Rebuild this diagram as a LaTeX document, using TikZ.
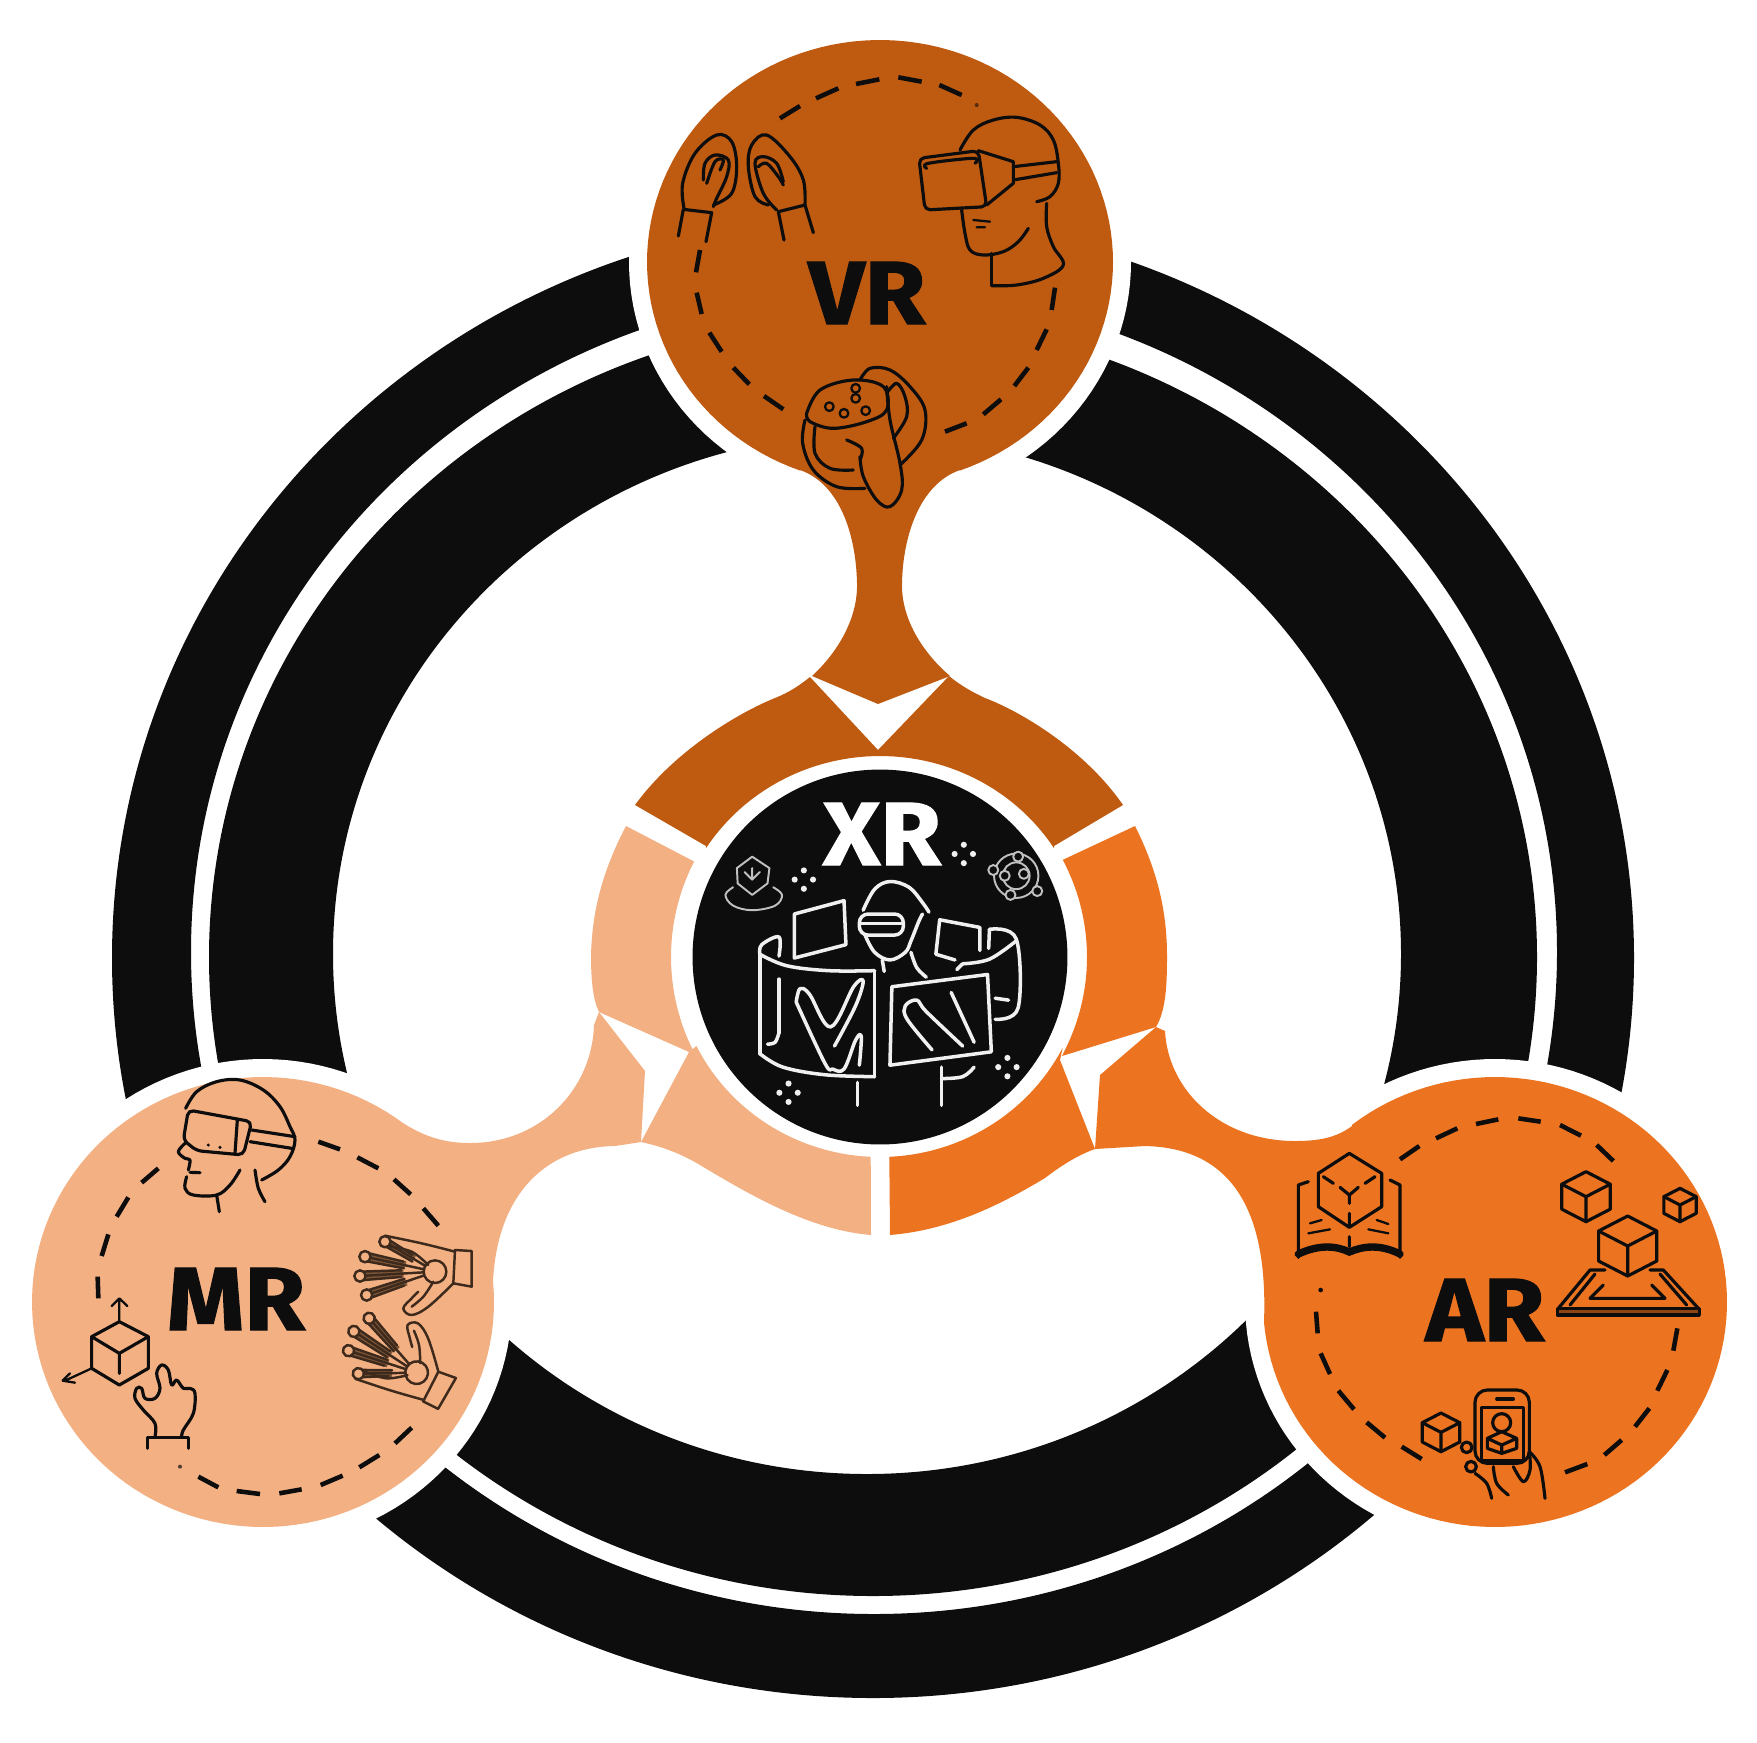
\documentclass[tikz,border=0pt]{standalone}
\usepackage{fontspec}
\setmainfont{Fira Sans}
\newfontfamily\heavyfont[BoldFeatures={FakeBold=1.4,FakeStretch=1.1}]{Fira Sans}
\definecolor{ringblack}{HTML}{0D0D0D}
\definecolor{vrcol}{HTML}{BF5A11}
\definecolor{mrcol}{HTML}{F3B083}
\definecolor{arcol}{HTML}{EC7320}
\definecolor{xrline}{HTML}{F0F0F0}
\definecolor{fingerbr}{HTML}{7F5638}
\definecolor{handdark}{HTML}{3D2A1C}
\tikzset{
  ic/.style={draw=ringblack,line width=1.8pt,line cap=round,line join=round},
  icthin/.style={draw=ringblack,line width=1.3pt,line cap=round,line join=round},
  xl/.style={draw=xrline,line width=2pt,line cap=round,line join=round},
  xg/.style={draw=xrline!80!black,line width=1.1pt,line cap=round,line join=round},
  dashseg/.style={draw=ringblack,line width=2.6pt},
  handln/.style={draw=handdark,line width=1.4pt,line cap=round,line join=round},
  halo/.style={draw=white,line width=20.5pt,line join=round},
  bigtext/.style={font=\heavyfont\fontsize{51}{51}\selectfont\bfseries,text=ringblack,inner sep=0pt},
  za/.style={shift={(620,20)},scale=0.33333},
  zb/.style={shift={(580,650)},scale=0.38265},
  zc/.style={shift={(20,1060)},scale=0.33333},
  zd/.style={shift={(1250,1070)},scale=0.33333}
}
\newcommand{\smline}[2][ic]{\draw[#1] plot[smooth,tension=.6] coordinates {#2};}
\newcommand{\cubeic}[3]{%
  \draw[ic] (#1,#2-#3) -- (#1+.97*#3,#2-.5*#3) -- (#1+.97*#3,#2+.5*#3) -- (#1,#2+#3) -- (#1-.97*#3,#2+.5*#3) -- (#1-.97*#3,#2-.5*#3) -- cycle;
  \draw[ic] (#1-.97*#3,#2-.5*#3) -- (#1,#2) -- (#1+.97*#3,#2-.5*#3) (#1,#2) -- (#1,#2+#3);
}
\newcommand{\sparkle}[2]{%
  \foreach \dx/\dy in {0/-24,24/0,0/24,-24/0}{\fill[xrline] (#1+\dx,#2+\dy) circle[radius=8];}
}
\usetikzlibrary{calc}
\newcommand{\mocap}{%
  \foreach \tx/\ty in {-150/-90,-210/-45,-225/13,-205/70}{
    \draw[line width=4.6pt,fingerbr] (\tx,\ty) -- ($(\tx,\ty)!0.58!(0,0)$);
    \draw[handln] ($(\tx,\ty)+(0,-13)$) -- ($(\tx,\ty)!0.55!(0,0)+(0,-10)$);
    \draw[handln] ($(\tx,\ty)+(0,13)$) -- ($(\tx,\ty)!0.55!(0,0)+(0,10)$);
    \draw[handln] (\tx,\ty) -- (0,0);
    \draw[handln,fill=mrcol] (\tx,\ty) circle[radius=17];
  }
  \draw[handln,fill=mrcol] (0,0) circle[radius=34];
  \smline[handln]{(-150,-108) (-40,-85) (60,-60)}
  \smline[handln]{(-135,-75) (-70,-60) (-20,-20)}
  \draw[handln] (60,-65) -- (110,-62) -- (110,45) -- (55,35) -- cycle;
  \smline[handln]{(55,35) (-20,105) (-70,130) (-95,110) (-70,80) (-50,60)}
  \smline[handln]{(-5,30) (-35,75) (-70,105)}
}
\begin{document}
\begin{tikzpicture}[x=0.02cm,y=-0.02cm]
\path[use as bounding box] (0,0) rectangle (1757,1742);
% rings
\fill[ringblack,even odd rule] (873,958) circle[x radius=761,y radius=740] (874,952) circle[x radius=683,y radius=662];
\fill[ringblack,even odd rule] (873,957) circle[x radius=664,y radius=639] (867,954) circle[x radius=534,y radius=520];
% bodies
\newcommand{\vrbody}{(812,676) .. controls (838,652) and (858,618) .. (857,583) .. controls (856,535) and (840,484) .. (800,470) -- plot[domain=110:430,samples=120,variable=\t] ({880+233*cos(\t)},{262+222*sin(\t)}) -- (960,470) .. controls (920,484) and (903,535) .. (902,583) .. controls (901,618) and (922,652) .. (950,676) -- (878,704) -- cycle}
\newcommand{\mrbody}{(599,1012) -- (594,1025) .. controls (592,1090) and (540,1143) .. (470,1143) .. controls (445,1143) and (425,1137) .. (403,1123) -- plot[domain=-52.7:-365,samples=120,variable=\t] ({263+231*cos(\t)},{1302+225*sin(\t)}) -- (493,1282) .. controls (497,1195) and (545,1147) .. (615,1146) -- (641,1142) -- (645,1071) -- cycle}
\newcommand{\arbody}{(1156,1027) -- (1165,1031) .. controls (1168,1090) and (1220,1141) .. (1295,1141) .. controls (1318,1141) and (1336,1138) .. (1352,1126) -- plot[domain=232:535,samples=120,variable=\t] ({1495+232*cos(\t)},{1302+225*sin(\t)}) -- (1264,1322) .. controls (1268,1215) and (1235,1148) .. (1145,1146) -- (1095,1149) -- (1100,1075) -- cycle}
\path[halo] \vrbody;
\path[halo] \mrbody;
\path[halo] \arbody;
\fill[vrcol] \vrbody;
\fill[mrcol] \mrbody;
\fill[arcol] \arbody;
% VR sector
\fill[vrcol] (635,805) .. controls (675,750) and (740,712) .. (775,698) .. controls (790,692) and (800,685) .. (810,677) -- (878,750) -- (949,676) .. controls (960,685) and (972,692) .. (985,698) .. controls (1022,712) and (1085,750) .. (1123,805) -- (1054,846) -- plot[domain=327.2:212.8,samples=50,variable=\t] ({880+207*cos(\t)},{957+201*sin(\t)}) -- (706,846) -- cycle;
% MR sector
\fill[mrcol] (626,826) .. controls (603,870) and (592,910) .. (591,956) .. controls (591,980) and (593,1000) .. (599,1012) -- (689,1052) -- plot[domain=153.6:207.2,samples=30,variable=\t] ({880+209*cos(\t)},{957+209*sin(\t)}) -- cycle;
\fill[mrcol] (689,1052) -- plot[domain=153.6:92.6,samples=30,variable=\t] ({880+205*cos(\t)},{957+200*sin(\t)}) -- (871,1235) .. controls (810,1230) and (750,1195) .. (700,1165) .. controls (680,1153) and (660,1146) .. (641,1142) -- cycle;
% AR sector
\fill[arcol] (1135,826) .. controls (1157,870) and (1167,910) .. (1167,956) .. controls (1167,985) and (1166,1010) .. (1156,1027) -- (1062,1056) -- plot[domain=26:-28,samples=30,variable=\t] ({880+207*cos(\t)},{957+207*sin(\t)}) -- cycle;
\fill[arcol] (1060,1060) -- plot[domain=27:87.4,samples=30,variable=\t] ({880+205*cos(\t)},{957+200*sin(\t)}) -- (890,1235) .. controls (950,1230) and (1000,1205) .. (1045,1178) .. controls (1062,1165) and (1078,1155) .. (1095,1149) -- cycle;
% XR disc
\node[circle,fill=ringblack,minimum size=7.5cm,inner sep=0pt] (xrdisc) at (880,957) {};
% labels
\node[bigtext] (vrlabel) at (867,293) {VR};
\node[bigtext] (mrlabel) at (236,1299) {MR};
\node[bigtext] (arlabel) at (1485,1310) {AR};
\node[bigtext,text=white] (xrlabel) at (882,834) {XR};
% ---------- VR icons
\begin{scope}[za]
\foreach \a/\b/\c/\d in {480/295/540/258,588/235/655/205,708/192/778/178,835/172/905/185,958/195/1025/225,1305/803/1295/870,1280/928/1250/990,1225/1043/1183/1098,1143/1138/1090/1183,1040/1210/975/1235,240/690/228/757,230/818/245/882,268/938/305/995,340/1043/388/1093,432/1128/490/1168}{\draw[dashseg] (\a,\b) -- (\c,\d);}
\fill[ringblack!60!vrcol] (1070,255) circle[radius=6];
% hands
\draw[ic] (175,648) -- (190,568) -- (275,578) -- (258,665);
\smline{(192,565) (188,490) (225,400) (290,345) (335,365) (350,440) (335,520) (280,555)}
\smline{(250,480) (255,430) (285,405) (325,420) (320,470) (290,535) (280,560)}
\smline{(260,490) (285,425) (310,420) (300,450)}
\draw[ic] (580,638) -- (555,555) -- (475,575) -- (492,660);
\smline{(555,555) (550,480) (510,410) (440,345) (395,375) (385,440) (405,530) (445,555)}
\smline{(490,485) (470,430) (430,410) (405,430) (430,520) (470,570)}
\smline{(415,440) (440,430) (475,470) (490,495)}
% head with headset
\smline{(1020,390) (1060,330) (1120,300) (1190,292) (1260,315) (1300,360) (1315,430) (1315,490) (1290,530) (1250,545)}
\smline{(1280,550) (1280,620) (1300,680) (1330,735) (1270,775) (1190,795) (1115,797)}
\draw[ic] (1115,797) -- (1115,700);
\smline{(1025,570) (1035,640) (1050,690) (1090,705) (1150,695) (1195,665) (1225,625)}
\draw[ic,rounded corners=3pt] (897,415) -- (1075,392) -- (1100,560) -- (915,570) -- cycle;
\draw[ic] (1075,392) -- (1180,425) -- (1180,490) -- (1100,555);
\draw[ic] (1180,440) -- (1310,425) (1180,480) -- (1310,458);
\smline{(920,445) (925,430) (1060,415) (1065,430)}
\draw[icthin] (1060,600) -- (1110,605) (1070,622) -- (1095,622);
% controller
\smline{(560,1180) (600,1110) (700,1080) (790,1100) (800,1170) (740,1205) (640,1225) (570,1205) (560,1180)}
\smline{(555,1200) (548,1270) (580,1350) (650,1400) (735,1405)}
\smline{(585,1220) (585,1300) (630,1345) (700,1350)}
\smline{(680,1260) (725,1285) (720,1320)}
\smline{(800,1100) (810,1200) (840,1330) (845,1410) (810,1460) (770,1440) (730,1370) (720,1310)}
\smline{(720,1080) (750,1045) (810,1050) (870,1100) (915,1170) (905,1260) (840,1335)}
\smline{(800,1120) (830,1090) (855,1130) (860,1190) (820,1255)}
\foreach \p/\q in {628/1160,672/1180,737/1172,707/1105,707/1135}{\draw[icthin] (\p,\q) circle[radius=13];}
\end{scope}
% ---------- MR icons
\begin{scope}[zc]
\foreach \a/\b/\c/\d in {895/245/960/268,1012/292/1075/325,1122/358/1172/403,1210/445/1255/497,1175/1103/1125/1150,1078/1185/1018/1222,968/1247/902/1275,845/1288/778/1300,720/1302/650/1293,595/1282/535/1250,235/715/233/650,245/588/265/523,290/470/325/412,365/368/415/325}{\draw[dashseg] (\a,\b) -- (\c,\d);}
\fill[ringblack!70!mrcol] (480,1220) circle[radius=6];
% head
\smline{(497,145) (530,95) (590,65) (660,60) (730,90) (780,140) (810,200) (825,240) (810,290) (775,330) (725,360)}
\smline{(705,330) (715,385) (735,425)}
\draw[ic,rounded corners=3pt] (505,150) -- (695,185) -- (670,285) -- (530,272) -- (490,240) -- cycle;
\draw[ic] (652,180) -- (645,280);
\draw[ic] (695,210) -- (825,230) (690,245) -- (815,265);
\smline{(495,250) (475,275) (495,295) (510,300) (505,330)}
\draw[ic] (510,337) -- (540,338);
\smline{(500,350) (495,385) (520,405) (590,405) (630,375) (660,330)}
\draw[ic] (590,405) -- (598,455);
\fill[ringblack] (565,255) circle[radius=5] (600,262) circle[radius=5];
% cube and arrows
\draw[ic] (298,785) -- (385,830) -- (385,925) -- (298,975) -- (215,925) -- (215,830) -- cycle;
\draw[ic] (215,830) -- (298,880) -- (385,830) (298,880) -- (298,940);
\draw[icthin] (298,785) -- (298,722) (275,738) -- (298,715) -- (322,738);
\draw[icthin] (215,925) -- (135,962) (150,940) -- (128,962) -- (165,968);
% pointing hand
\smline{(405,1130) (405,1090) (370,1050) (345,1015) (350,985) (365,985) (375,1015) (405,1015) (420,985) (410,940) (425,915) (445,930) (455,975) (470,960) (490,985) (510,985) (525,1000) (520,1060) (490,1110) (485,1130)}
\draw[ic] (383,1165) -- (383,1133) -- (505,1133) -- (505,1165);
% mocap hands
\begin{scope}[shift={(1245,635)}]\mocap\end{scope}
\begin{scope}[shift={(1190,938)},rotate=-30,yscale=-1]\mocap\end{scope}
\end{scope}
% ---------- AR icons
\begin{scope}[zd]
\foreach \a/\b/\c/\d in {450/268/508/228,558/205/622/175,678/162/745/148,805/145/872/155,930/165/993/197,1040/225/1090/273,198/725/203/790,212/850/240/912,265/962/312/1018,350/1057/405/1103,455/1130/515/1167,945/1207/1012/1182,1063/1155/1115/1110,1155/1070/1198/1015,1222/962/1252/900,1270/842/1282/775}{\draw[dashseg] (\a,\b) -- (\c,\d);}
\fill[ringblack] (212,660) circle[radius=7];
% book
\draw[ic] (175,335) -- (145,345) -- (145,562) (420,330) -- (450,345) -- (450,562);
\draw[ringblack,line width=4.2pt,line cap=round] (145,552) .. controls (210,522) and (260,528) .. (298,546) .. controls (340,528) and (390,522) .. (450,552);
\draw[ic] (298,250) -- (395,310) -- (395,410) -- (298,472) -- (205,410) -- (205,310) -- cycle;
\draw[ic] (220,320) -- (250,340) (375,320) -- (345,340) (270,352) -- (298,375) -- (325,352) (298,375) -- (298,400) (298,430) -- (298,470) (298,500) -- (298,530);
\draw[icthin] (180,460) -- (215,450) (175,490) -- (240,478) (380,450) -- (415,462) (355,478) -- (415,490);
% cubes
\cubeic{1008}{380}{75}
\cubeic{1290}{405}{50}
\cubeic{1133}{528}{90}
\cubeic{573}{1087}{58}
% platform
\draw[ic,fill=arcol!60!black] (922,715) rectangle (1348,735);
\draw[ic] (925,715) -- (1020,600) -- (1065,600) (1200,600) -- (1240,600) -- (1345,715);
\draw[ic] (960,705) -- (1035,612) (1310,705) -- (1230,612);
\draw[ic] (1060,645) -- (1020,685) -- (1245,685) -- (1205,645);
% phone
\draw[ic,rounded corners=7pt] (675,960) rectangle (838,1180);
\draw[ic] (695,1012) rectangle (820,1172);
\draw[ic] (740,987) -- (790,987);
\draw[ic] (755,1058) circle[radius=27];
\draw[ic] (712,1105) -- (755,1085) -- (800,1105) -- (800,1135) -- (755,1150) -- (712,1135) -- cycle (712,1105) -- (755,1125) -- (800,1105) (755,1125) -- (755,1150);
\draw[ic] (650,1132) circle[radius=16] (663,1190) circle[radius=16];
\smline{(675,1210) (710,1240) (725,1285)}
\smline{(730,1190) (740,1240) (775,1275)}
\smline{(790,1190) (820,1235) (840,1200) (838,1145)}
\smline{(838,1145) (870,1190) (885,1285)}
\end{scope}
% ---------- XR icons
\begin{scope}[zb]
% left front panel
\smline[xl]{(520,800) (520,750) (475,770) (470,795)}
\draw[xl] (470,795) -- (470,1055);
\smline[xl]{(470,1055) (530,1090) (640,1110) (770,1115)}
\smline[xl]{(470,795) (540,825) (650,838) (770,838)}
\draw[xl] (770,838) -- (770,1115);
\draw[xl] (520,860) -- (520,1000);
\smline[xl]{(520,1000) (510,1025) (490,1030)}
\smline[xl]{(565,920) (575,885) (600,900) (655,985) (715,880) (740,865) (720,930) (665,1035)}
\smline[xl]{(565,920) (640,1080) (660,1095) (690,1095) (720,1020) (735,1010) (730,1085)}
% right front panel
\draw[xl] (815,880) -- (810,1085) -- (1075,1050) -- (1065,848) -- cycle;
\smline[xl]{(920,1045) (855,965) (850,930) (880,915) (905,945) (1000,1035)}
\draw[xl] (970,895) -- (1030,1025);
% back right arc
\smline[xl]{(1070,730) (1140,755) (1145,935) (1085,965)}
\smline[xl]{(1000,820) (1070,808) (1140,760)}
\draw[xl] (1070,730) -- (1068,780) (1000,820) -- (985,835) (1085,910) -- (1120,915);
% back panels
\draw[xl] (560,690) -- (690,655) -- (695,770) -- (560,805) -- cycle;
\draw[xl] (1045,785) -- (1045,725) -- (940,705) -- (930,795) -- (980,810);
% head
\smline[xl]{(740,680) (770,625) (810,605) (860,620) (895,660) (912,685)}
\draw[xl,rounded corners=5pt] (730,690) rectangle (845,745);
\draw[xl] (735,715) -- (840,715);
\smline[xl]{(745,745) (770,790) (810,810) (850,790) (865,760) (885,710) (895,690)}
\draw[xl] (790,810) -- (795,840);
\smline[xl]{(865,790) (880,830) (905,855)}
\draw[xl] (725,1130) -- (725,1190) (945,1090) -- (945,1190);
\smline[xl]{(945,1120) (1000,1115) (1030,1090)}
\sparkle{1003}{533}
\sparkle{585}{600}
\sparkle{545}{1157}
\sparkle{1117}{1090}
% small left icon
\draw[xg] (410,570) -- (450,540) -- (495,570) -- (490,610) -- (450,640) -- (412,610) -- cycle;
\draw[xg] (430,580) -- (450,600) -- (470,580) (450,570) -- (450,600);
\smline[xg]{(400,620) (380,640) (400,668) (450,680) (510,668) (528,640) (505,620)}
% small right icon
\draw[xg] (1140,590) circle[radius=58];
\draw[xg] (1140,590) circle[radius=35];
\foreach \p/\q in {1080/575,1145/540,1195/630,1125/640,1160/585,1110/590}{\draw[xg,fill=ringblack] (\p,\q) circle[radius=13];}
\end{scope}
\end{tikzpicture}
\end{document}
